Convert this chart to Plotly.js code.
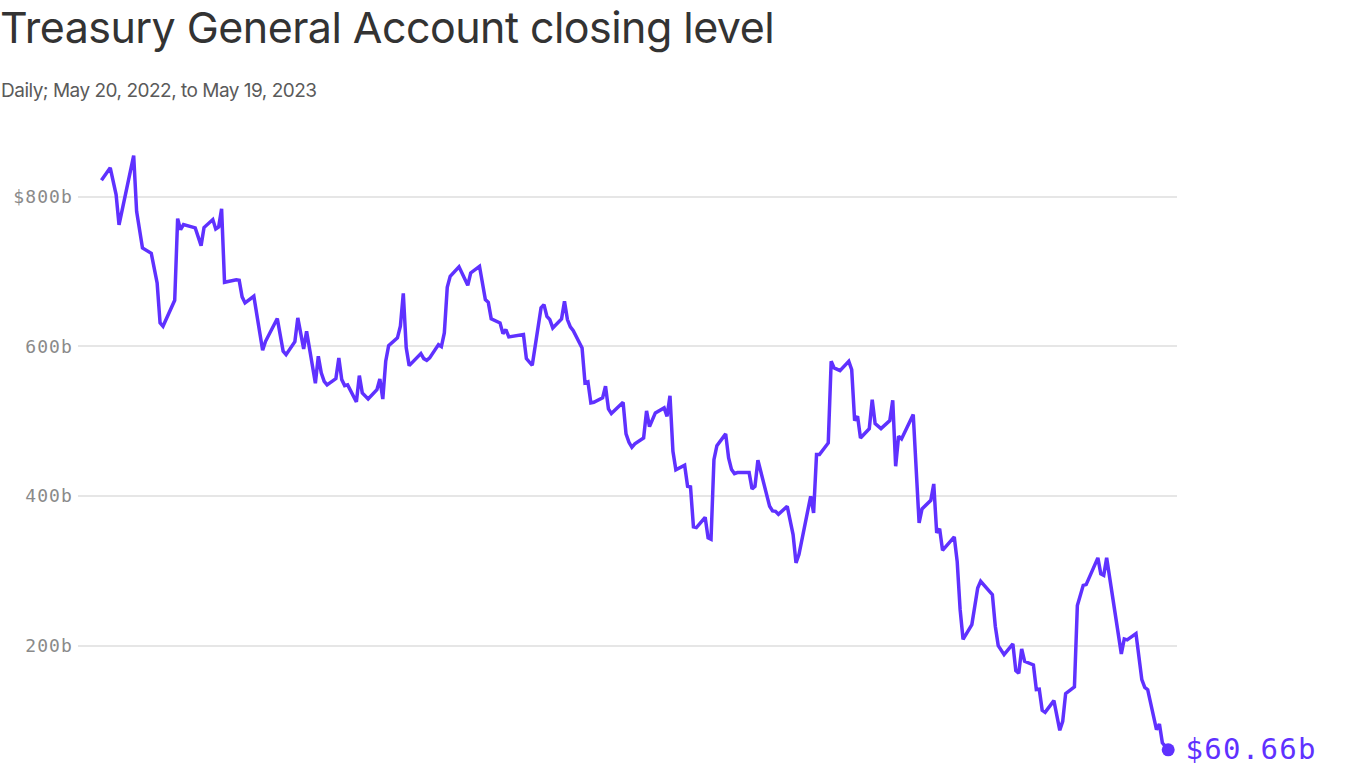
<!DOCTYPE html>
<html>
<head>
<meta charset="utf-8">
<script src="https://cdn.plot.ly/plotly-3.0.1.min.js"></script>
<style>
html,body{margin:0;padding:0;background:#fff;overflow:hidden}#chart{width:1366px;height:768px}
.gtitle{letter-spacing:-0.55px}
.annotation[data-index="0"] text{letter-spacing:-0.5px}
.annotation[data-index="1"] text{letter-spacing:1.3px}
.ytick text{letter-spacing:1.1px}
</style>
</head>
<body>
<div id="chart"></div>
<script>
const titleText = "Treasury General Account closing level";
const subtitleText = "Daily; May 20, 2022, to May 19, 2023";
const endLabel = "$60.66b";
const startDate = [2022, 4, 20];
const tickValues = [200, 400, 600, 800];
const tickLabels = ["200b", "400b", "600b", "$800b"];
// days since May 20, 2022
const dayOffsets = [0,3,5,6,11,12,14,17,19,20,21,25,26,27,28,32,34,35,38,39,40,41,42,46,47,48,49,52,55,56,60,62,63,66,67,69,70,73,74,75,76,77,80,81,82,83,84,87,88,89,91,94,95,96,97,98,101,102,103,104,105,109,110,111,112,115,116,117,118,119,122,125,126,129,131,132,133,136,137,138,139,144,145,146,147,150,151,152,153,154,157,158,159,160,161,164,165,166,167,168,171,172,173,174,178,179,180,181,182,185,186,187,189,192,193,194,195,196,199,200,201,202,203,206,207,208,209,210,213,214,215,216,217,221,222,223,224,228,229,230,231,234,236,237,238,242,243,244,245,248,249,250,252,255,256,257,258,259,262,263,264,266,269,270,271,272,273,277,278,279,280,283,284,285,286,287,291,292,293,294,297,299,300,304,305,306,308,311,312,313,314,315,318,319,320,321,322,325,327,328,329,332,333,335,336,340,341,342,343,345,348,349,350,353,355,356,357,360,361,362,364];
// closing balance, $ billions
const balances = [821.8,838.4,802.7,762.2,854.8,780.4,731.4,724.2,684.7,631.2,626.7,661.4,770.6,755.9,762.6,758.2,734.5,758.6,769.3,756.8,759.5,783.6,685.5,688.9,688.1,666,657.9,666.8,594.6,606.6,637,593.3,588.8,606.2,637.9,596.5,620,550.5,586.6,564.4,553.2,548.4,556.8,584.4,555.4,547.4,548.4,525.6,560.8,537.7,529.6,542.1,556.4,529.4,579.9,600.9,611.2,626.7,670.8,597.8,574.1,590.2,583.5,581.2,584.4,602.2,599.5,617.8,678.8,693.5,706.1,681.5,698,706.9,662.4,658.7,636.6,631.2,616.9,622.3,612.5,615.6,583.5,579.1,574.5,651.3,655.7,640,635.6,624.5,636.6,660.1,635.6,625.9,620.9,597.8,551,552.4,524.3,525.1,531,546.5,516.3,510,525.1,482.9,471.7,464.9,469.5,477.5,513.6,492.6,510.9,517.6,506.4,533.7,459.6,434.8,440.9,412.9,412,358.6,357.6,371.4,343.9,342,448.5,467.2,482.9,450.8,435.2,429.8,431.2,431.2,409.4,412.9,447.6,386.1,380,379.4,375.4,386.1,348.3,310.5,321.6,399.5,377.3,455.2,455.2,470.8,579.9,571.1,567.5,579.9,568.8,500.6,506.4,477.5,489.9,528.7,496.6,489.9,500.6,527.8,439.6,479.7,476.2,508.7,444.5,363.9,382.6,394.1,416,350.6,356.3,327.3,345.2,312.2,248,208.4,228,277,285.9,268.1,225.8,200,187.9,202.2,166.6,163,195.6,179,174.2,141.2,141.6,113.5,110.8,126.5,86.8,98.8,135.8,144.8,253.4,280.5,281.5,317.2,295.8,293.9,317.2,265.9,188.9,208.9,207.6,216,154.5,144.2,141.1,87.7,95.3,70,60.66];

const toDate = d => new Date(Date.UTC(startDate[0], startDate[1], startDate[2] + d)).toISOString().slice(0, 10);
const dates = dayOffsets.map(toDate);
const lastDate = dates[dates.length - 1];
const lastValue = balances[balances.length - 1];
const purple = "#5f31ff";

Plotly.newPlot("chart", [
  {type: "scatter", mode: "lines", x: dates, y: balances,
   line: {color: purple, width: 3.5, shape: "linear"}, hoverinfo: "skip", cliponaxis: false},
  {type: "scatter", mode: "markers", x: [lastDate], y: [lastValue],
   marker: {color: purple, size: 13}, hoverinfo: "skip", cliponaxis: false}
], {
  width: 1366, height: 768, showlegend: false,
  paper_bgcolor: "#fff", plot_bgcolor: "#fff",
  margin: {l: 78, r: 189, t: 130, b: 0, pad: 0},
  title: {text: titleText, x: 0, xref: "container", xanchor: "left", y: 0.963, yref: "container", yanchor: "middle",
          pad: {l: 0}, font: {family: "Inter", size: 43, color: "#333333"}},
  xaxis: {type: "date", range: [toDate(-8), toDate(367)], visible: false, fixedrange: true},
  yaxis: {range: [36.4, 889], tickvals: tickValues, ticktext: tickLabels, ticks: "", showline: false, zeroline: false,
          gridcolor: "#e6e6e6", gridwidth: 2, fixedrange: true, ticklabelstandoff: 4,
          tickfont: {family: "DejaVu Sans Mono", size: 18, color: "#8a8a8a"}},
  annotations: [
    {text: subtitleText, xref: "paper", yref: "paper", x: -78/1099, y: 1 + (130-90)/638, xanchor: "left", yanchor: "middle",
     showarrow: false, align: "left", borderpad: 0, font: {family: "Inter", size: 19, color: "#5a5a5a"}},
    {text: endLabel, xref: "x", yref: "y", x: lastDate, y: lastValue, xanchor: "left", yanchor: "middle", xshift: 21, yshift: 1,
     showarrow: false, borderpad: 0, font: {family: "DejaVu Sans Mono", size: 29, color: purple}}
  ]
}, {staticPlot: true, displayModeBar: false});
</script>
</body>
</html>
